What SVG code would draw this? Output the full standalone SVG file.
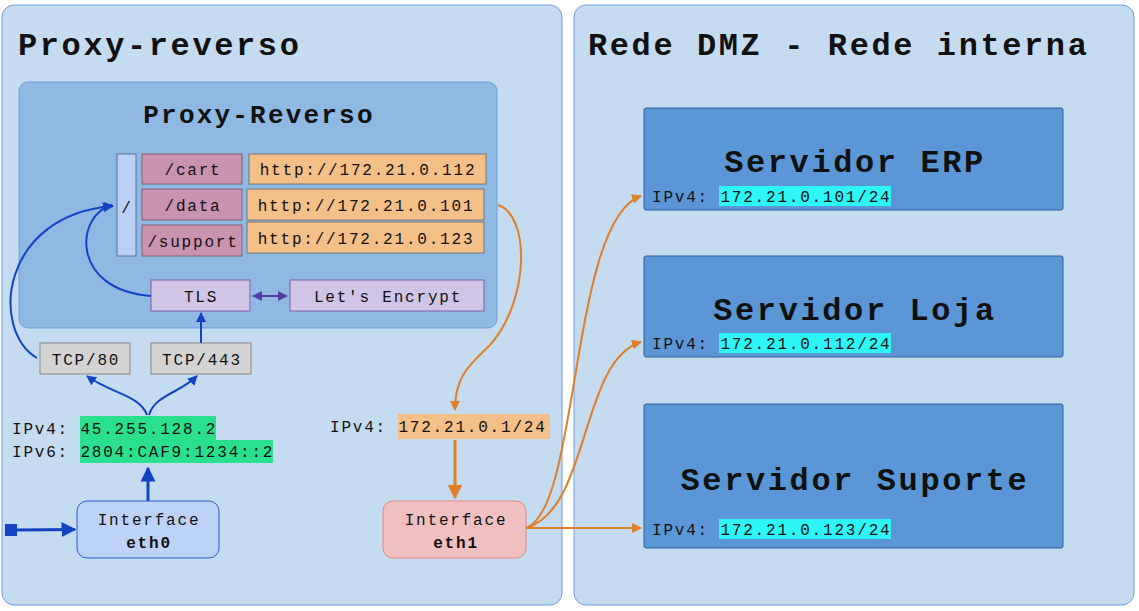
<svg xmlns="http://www.w3.org/2000/svg" width="1139" height="611" viewBox="0 0 1139 611">
<defs>
<style>
text{font-family:"Liberation Mono","DejaVu Sans Mono",monospace;fill:#111}
.panel{fill:#c5dbf0;stroke:#6f9ee0;stroke-width:1}
.t{font-size:16px;letter-spacing:1.8px}
.b{font-weight:bold}
.h{font-size:32px;font-weight:bold;letter-spacing:2.6px}
.srv{fill:#5b97d6;stroke:#2e5e9c}
.blue{stroke:#1444c4;fill:none}
.or{stroke:#e07f2a;fill:none}
</style>
<marker id="ab" viewBox="0 0 10 10" refX="9" refY="5" markerWidth="5" markerHeight="5" orient="auto"><path d="M0,0L10,5L0,10z" fill="#1444c4"/></marker>
<marker id="ao" viewBox="0 0 10 10" refX="9" refY="5" markerWidth="5" markerHeight="5" orient="auto"><path d="M0,0L10,5L0,10z" fill="#e07f2a"/></marker>
<marker id="ap" viewBox="0 0 10 10" refX="9" refY="5" markerWidth="5" markerHeight="5" orient="auto-start-reverse"><path d="M0,0L10,5L0,10z" fill="#5a3ca0"/></marker>
</defs>
<rect width="1139" height="611" fill="#fff"/>
<g id="panel-left"><rect class="panel" x="2" y="5" width="560" height="600" rx="12"/><text x="18" y="55" class="h">Proxy-reverso</text></g>
<g id="panel-right"><rect class="panel" x="574" y="5" width="560" height="600" rx="12"/><text x="588" y="55" class="h">Rede DMZ - Rede interna</text></g>
<g id="proxy"><rect x="19" y="82" width="478" height="246" rx="9" fill="#8fb8e2" stroke="#6f9ee0"/><text x="259" y="123" font-size="26" class="b" letter-spacing="2.2" text-anchor="middle">Proxy-Reverso</text></g>
<g id="slash"><rect x="117" y="154" width="19" height="102" fill="#bcd0f5" stroke="#5b6f9a"/><text x="127" y="213" class="t" text-anchor="middle">/</text></g>
<g id="cart"><rect x="142" y="154" width="100" height="30" fill="#c992ae" stroke="#7a6070"/><text x="193" y="175" class="t" text-anchor="middle">/cart</text></g>
<g id="data"><rect x="142" y="189" width="100" height="31" fill="#c992ae" stroke="#7a6070"/><text x="193" y="211" class="t" text-anchor="middle">/data</text></g>
<g id="support"><rect x="142" y="225" width="100" height="31" fill="#c992ae" stroke="#7a6070"/><text x="193" y="247" class="t" text-anchor="middle">/support</text></g>
<g id="url112"><rect x="249" y="154" width="237" height="30" fill="#f5bf88" stroke="#777"/><text x="368" y="175" class="t" text-anchor="middle">http://172.21.0.112</text></g>
<g id="url101"><rect x="247" y="189" width="237" height="31" fill="#f5bf88" stroke="#777"/><text x="366" y="211" class="t" text-anchor="middle">http://172.21.0.101</text></g>
<g id="url123"><rect x="247" y="222" width="237" height="31" fill="#f5bf88" stroke="#777"/><text x="366" y="244" class="t" text-anchor="middle">http://172.21.0.123</text></g>
<g id="tls"><rect x="151" y="280" width="99" height="31" fill="#d1c5e6" stroke="#7b5ea8"/><text x="201" y="302" class="t" text-anchor="middle">TLS</text></g>
<g id="le"><rect x="290" y="280" width="194" height="31" fill="#d1c5e6" stroke="#7b5ea8"/><text x="388" y="302" class="t" text-anchor="middle">Let's Encrypt</text></g>
<g id="tcp80"><rect x="40" y="343" width="90" height="31" fill="#d3d3d3" stroke="#888"/><text x="86" y="365" class="t" text-anchor="middle">TCP/80</text></g>
<g id="tcp443"><rect x="151" y="343" width="100" height="31" fill="#d3d3d3" stroke="#888"/><text x="202" y="365" class="t" text-anchor="middle">TCP/443</text></g>
<g id="ip-eth0"><rect x="80" y="416" width="136" height="24" fill="#2ae08f"/><rect x="80" y="440" width="193" height="23" fill="#2ae08f"/><text x="12" y="434" class="t">IPv4: 45.255.128.2</text><text x="12" y="457" class="t">IPv6: 2804:CAF9:1234::2</text></g>
<g id="ip-eth1"><rect x="398" y="414" width="152" height="25" fill="#f5bf88"/><text x="330" y="432" class="t">IPv4: 172.21.0.1/24</text></g>
<g id="eth0"><rect x="77" y="501" width="142" height="57" rx="10" fill="#bcd2f7" stroke="#2f5fd0"/><text x="149" y="525" class="t" text-anchor="middle">Interface</text><text x="149" y="548" class="t b" text-anchor="middle">eth0</text></g>
<g id="eth1"><rect x="383" y="501" width="143" height="57" rx="10" fill="#f0c0c0" stroke="#e08585"/><text x="456" y="525" class="t" text-anchor="middle">Interface</text><text x="456" y="548" class="t b" text-anchor="middle">eth1</text></g>
<g id="erp"><rect class="srv" x="644" y="108" width="419" height="102" rx="2"/><text x="855" y="172" class="h" text-anchor="middle">Servidor ERP</text><rect x="719" y="186" width="172" height="20" fill="#2ef6f6"/><text x="652" y="202" class="t">IPv4: 172.21.0.101/24</text></g>
<g id="loja"><rect class="srv" x="644" y="256" width="419" height="101" rx="2"/><text x="855" y="320" class="h" text-anchor="middle">Servidor Loja</text><rect x="719" y="333" width="172" height="20" fill="#2ef6f6"/><text x="652" y="349" class="t">IPv4: 172.21.0.112/24</text></g>
<g id="suporte"><rect class="srv" x="644" y="404" width="419" height="144" rx="2"/><text x="855" y="490" class="h" text-anchor="middle">Servidor Suporte</text><rect x="719" y="519" width="172" height="20" fill="#2ef6f6"/><text x="652" y="535" class="t">IPv4: 172.21.0.123/24</text></g>
<g id="connectors">
<rect x="5" y="524" width="12" height="12" fill="#1444c4"/>
<path class="blue" stroke-width="3" d="M17,530 L75,529.5" marker-end="url(#ab)"/>
<path class="blue" stroke-width="3" d="M148,501 L148,468" marker-end="url(#ab)"/>
<path class="blue" stroke-width="2" d="M147,415 C140,395 110,393 87,376" marker-end="url(#ab)"/>
<path class="blue" stroke-width="2" d="M149,415 C155,395 180,393 197,376" marker-end="url(#ab)"/>
<path class="blue" stroke-width="2" d="M201,343 L201,313" marker-end="url(#ab)"/>
<path class="blue" stroke-width="2" d="M37,358 C-10,330 0,215 113,206" marker-end="url(#ab)"/>
<path class="blue" stroke-width="2" d="M151,296 C70,290 75,215 112,205" marker-end="url(#ab)"/>
<path stroke="#5a3ca0" stroke-width="2" fill="none" d="M253,296 L287,296" marker-start="url(#ap)" marker-end="url(#ap)"/>
<path class="or" stroke-width="2" d="M498,205 C530,215 530,300 490,345 C470,365 455,375 455,410" marker-end="url(#ao)"/>
<path class="or" stroke-width="3" d="M455,440 L455,498" marker-end="url(#ao)"/>
<path class="or" stroke-width="2" d="M526,528 C580,510 570,220 641,196" marker-end="url(#ao)"/>
<path class="or" stroke-width="2" d="M526,528 C590,510 580,360 641,342" marker-end="url(#ao)"/>
<path class="or" stroke-width="2" d="M526,528 L641,528" marker-end="url(#ao)"/>
</g>
</svg>
